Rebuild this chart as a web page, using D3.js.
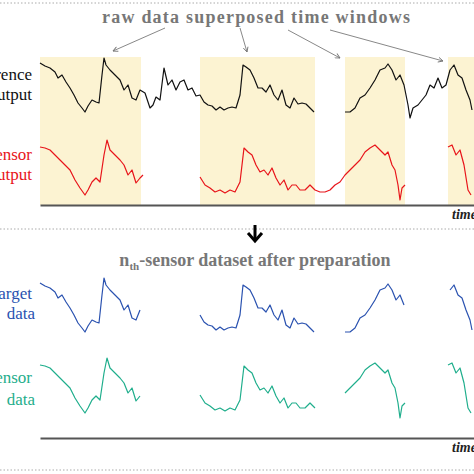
<!DOCTYPE html>
<html><head><meta charset="utf-8">
<script src="https://cdn.jsdelivr.net/npm/d3@7"></script>
<style>body{margin:0;background:#fff}</style></head>
<body><svg id="c" width="474" height="474"></svg>
<script>
// time windows (arbitrary time units)
const windows = [[0,101],[160,275],[305,365],[408,440]];
// reference output: [time, value]
const refT = [0,5,10,15,18,22,26,30,34,38,42,45,48,52,56,59,62,64,66,70,75,80,84,88,92,96,100,105,110,113,116,120,124,128,132,136,140,144,148,152,156,160,164,168,172,176,180,184,188,192,196,200,203,206,210,214,218,222,226,230,234,238,242,246,250,254,258,262,266,270,274,305,310,315,320,325,330,335,340,345,348,352,356,360,364,368,370,373,378,382,386,390,394,398,402,406,410,414,418,422,426,430,432];
const refV = [67,64,62,58,52,55,48,42,35,27,22,18,24,30,28,27,55,72,65,60,55,50,40,45,32,30,40,37,22,25,33,30,62,45,50,40,48,50,40,42,34,35,28,25,24,20,23,20,22,23,22,35,65,63,60,52,42,42,38,45,35,30,40,25,22,32,26,27,26,22,18,18,18,22,32,35,42,50,60,62,66,60,50,55,45,25,12,22,25,30,35,45,42,52,42,45,60,65,55,52,40,30,20];
// sensor output: [time, value]
const senT = [0,5,10,15,20,25,30,35,40,45,48,52,56,60,64,67,70,75,80,84,88,92,96,100,103,160,165,170,175,180,185,190,195,200,204,208,212,216,220,224,228,232,236,240,244,248,252,256,260,265,270,275,280,285,290,295,300,305,310,315,320,325,330,335,340,345,348,352,355,358,360,362,365,408,412,416,420,424,428,431];
const senV = [63,62,60,55,50,45,40,30,22,15,20,28,32,28,55,70,60,55,50,45,35,40,27,32,35,33,25,22,18,20,17,20,18,28,62,58,55,45,38,40,35,42,32,25,30,20,25,25,20,20,25,20,18,18,20,25,28,35,40,45,50,58,62,65,60,55,58,45,40,25,10,22,25,63,65,55,60,45,20,15];

const svg = d3.select('#c');
const x = d3.scaleLinear().domain([0,440]).range([40,480]);
const yRef = d3.scaleLinear().domain([0,80]).range([130,50]);
const ySen = d3.scaleLinear().domain([0,80]).range([210,130]);
const yTgt = d3.scaleLinear().domain([0,80]).range([350,270]);
const yDat = d3.scaleLinear().domain([0,80]).range([428,348]);

const ref = refT.map((t,i)=>[t,refV[i]]);
const sen = senT.map((t,i)=>[t,senV[i]]);

[3,229,470].forEach(yy=>svg.append('line').attr('x1',0).attr('x2',474).attr('y1',yy).attr('y2',yy)
  .attr('stroke','#aaa').attr('stroke-dasharray','1.5,2'));

svg.selectAll('rect.w').data(windows).join('rect')
  .attr('x',d=>x(d[0])).attr('width',d=>x(d[1])-x(d[0]))
  .attr('y',57).attr('height',148).attr('fill','#fcf3d2');

function drawLine(data, ys, color){
  svg.append('path').datum(data)
    .attr('d', d3.line().x(d=>x(d[0])).y(d=>ys(d[1])))
    .attr('fill','none').attr('stroke',color).attr('stroke-width',1.2).attr('stroke-linejoin','round');
}
drawLine(ref.filter(d=>d[0]<=274), yRef, '#111');
drawLine(ref.filter(d=>d[0]>=305), yRef, '#111');
drawLine(sen.filter(d=>d[0]<=103), ySen, '#e8141a');
drawLine(sen.filter(d=>d[0]>=160&&d[0]<=365), ySen, '#e8141a');
drawLine(sen.filter(d=>d[0]>=408), ySen, '#e8141a');
windows.forEach(w=>{
  drawLine(ref.filter(d=>d[0]>=w[0]&&d[0]<=w[1]), yTgt, '#2a52b0');
  drawLine(sen.filter(d=>d[0]>=w[0]&&d[0]<=w[1]), yDat, '#1fae8c');
});

const ax1 = d3.axisBottom(x).ticks(0).tickSize(0);
[205,438].forEach(yy=>{
  const g = svg.append('g').attr('transform',`translate(0,${yy})`).call(ax1);
  g.select('.domain').attr('stroke','#555').attr('stroke-width',2);
  svg.append('text').attr('x',452).attr('y',yy+14).text('time')
    .attr('font-family','Liberation Serif').attr('font-style','italic').attr('font-weight','bold')
    .attr('font-size',14).attr('fill','#222');
});

const serif = 'Liberation Serif';
svg.append('text').attr('x',256).attr('y',23).attr('text-anchor','middle')
  .attr('font-family',serif).attr('font-weight','bold').attr('font-size',18).attr('fill','#777')
  .attr('textLength',308).text('raw data superposed time windows');
const t2 = svg.append('text').attr('x',255).attr('y',266).attr('text-anchor','middle')
  .attr('font-family',serif).attr('font-weight','bold').attr('font-size',18).attr('fill','#777');
t2.append('tspan').text('n');
t2.append('tspan').attr('font-size',11).attr('dy',4).text('th');
t2.append('tspan').attr('dy',-4).text('-sensor dataset after preparation');

svg.append('defs').append('marker').attr('id','ah').attr('viewBox','0 0 10 10').attr('refX',9).attr('refY',5)
  .attr('markerWidth',6).attr('markerHeight',6).attr('orient','auto')
  .append('path').attr('d','M1,1L9,5L1,9').attr('fill','none').attr('stroke','#777').attr('stroke-width',1.5);
[[165,28,113,51],[240,28,247,52],[288,30,340,58],[330,30,443,61]].forEach(a=>
  svg.append('line').attr('x1',a[0]).attr('y1',a[1]).attr('x2',a[2]).attr('y2',a[3])
   .attr('stroke','#888').attr('stroke-width',1).attr('marker-end','url(#ah)'));
svg.append('line').attr('x1',255).attr('x2',255).attr('y1',225).attr('y2',240).attr('stroke','#000').attr('stroke-width',3);
svg.append('path').attr('d','M248,233L255,241L262,233').attr('fill','none').attr('stroke','#000').attr('stroke-width',3);

const labels = [['reference',80,'#111'],['output',100,'#111'],['sensor',160,'#e8141a'],['output',180,'#e8141a'],
  ['target',299,'#2a52b0'],['data',319,'#2a52b0'],['sensor',383,'#1fae8c'],['data',405,'#1fae8c']];
labels.forEach(l=>svg.append('text').attr('x',l[0]==='data'?35:32).attr('y',l[1]).attr('text-anchor','end')
  .attr('font-family',serif).attr('font-size',17).attr('fill',l[2]).text(l[0]));
</script></body></html>
